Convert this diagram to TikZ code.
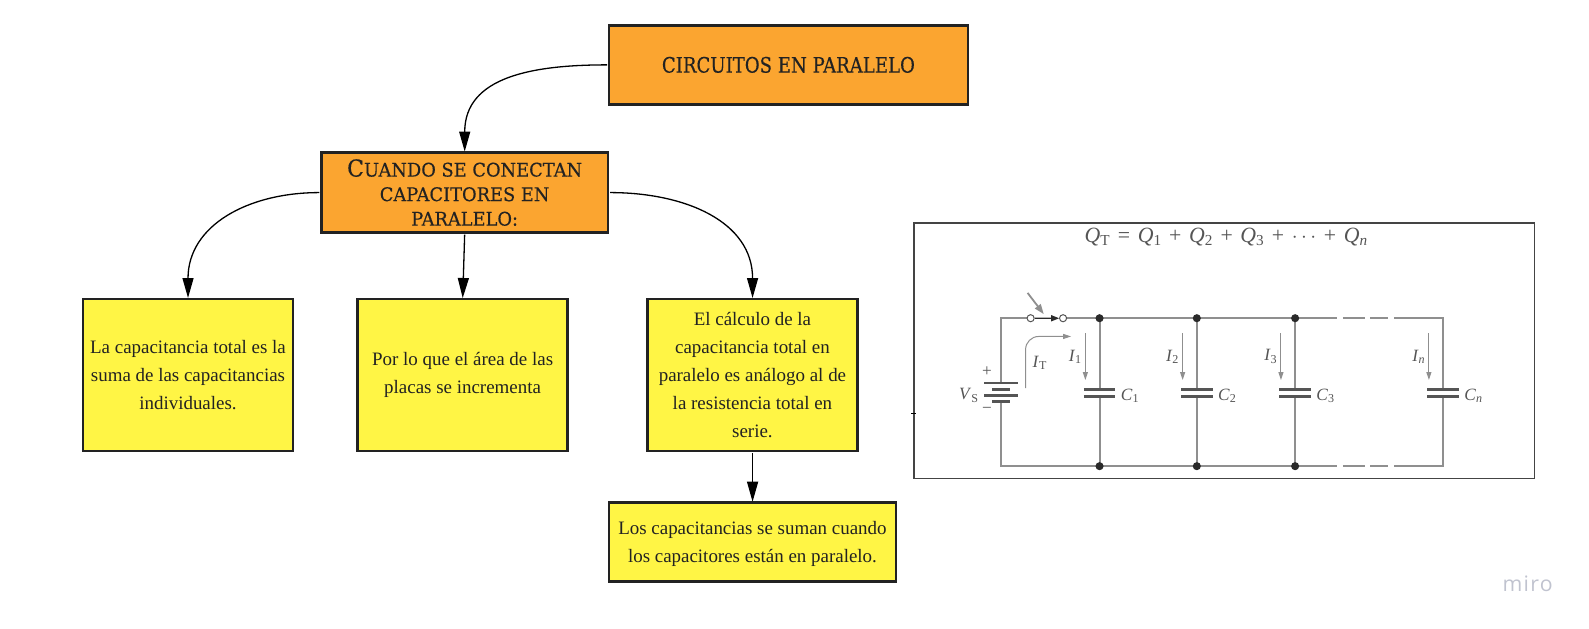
\documentclass[tikz,border=0pt]{standalone}
\usepackage{fontspec}
\usetikzlibrary{arrows.meta}
\setmainfont{Liberation Serif}
\newfontfamily\slab[FakeStretch=0.85,FakeBold=0.4]{DejaVu Serif}
\newfontfamily\slabwide[FakeStretch=0.95,FakeBold=0.3]{DejaVu Serif}
\newfontfamily\mirofont[LetterSpace=6]{Open Sans}
\definecolor{boxorange}{HTML}{FBA530}
\definecolor{boxyellow}{HTML}{FFF545}
\definecolor{boxline}{HTML}{222222}
\definecolor{wire}{HTML}{8F8F8F}
\definecolor{dots}{HTML}{2A2A2A}
\definecolor{cirtext}{HTML}{555555}
\definecolor{frameline}{HTML}{444444}
\definecolor{mirogrey}{HTML}{C0C3CF}
\tikzset{
  base/.style={draw=boxline,line width=2.6pt,align=center,inner sep=0pt,outer sep=0pt},
  title/.style={base,fill=boxorange,text=boxline},
  note/.style={base,fill=boxyellow,text=boxline,font=\fontsize{18.7}{27.6}\selectfont},
  link/.style={draw=black,line width=1.3pt,-{Triangle[length=20pt,width=11pt]},shorten <=2pt,shorten >=1pt},
  wireline/.style={draw=wire,line width=2pt},
  plate/.style={draw=cirtext,line width=2.6pt},
  cur/.style={draw=wire,line width=1pt,-{Triangle[length=8pt,width=5pt]}},
  cirlabel/.style={text=cirtext,inner sep=0pt,font=\fontsize{17}{17}\selectfont},
  junction/.style={circle,fill=dots,minimum size=8pt,inner sep=0pt},
  sw/.style={circle,draw=cirtext,fill=white,line width=1pt,minimum size=7pt,inner sep=0pt}
}
\newcommand{\sym}[2]{\textit{#1}\textsubscript{#2}}
\begin{document}
\begin{tikzpicture}[x=1pt,y=-1pt,scale=1.0134,transform shape]
\useasboundingbox (0,0) rectangle (1568,619.7);

\node[title,font=\slab\fontsize{21}{24}\selectfont,minimum width=354pt,minimum height=78pt] (top) at (778,64) {CIRCUITOS EN PARALELO};
\node[title,font=\slabwide\fontsize{18.5}{24.2}\selectfont,minimum width=283pt,minimum height=79pt] (mid) at (458.5,190) {{\fontsize{23}{24.2}\selectfont C}UANDO SE CONECTAN\\CAPACITORES EN\\PARALELO:};
\node[note,minimum width=207pt,minimum height=150pt] (a) at (185.5,370) {La capacitancia total es la\\suma de las capacitancias\\individuales.};
\node[note,minimum width=207pt,minimum height=150pt] (b) at (456.5,370) {Por lo que el área de las\\placas se incrementa};
\node[note,minimum width=207pt,minimum height=150pt] (c) at (742.5,370) {El cálculo de la\\capacitancia total en\\paralelo es análogo al de\\la resistencia total en\\serie.};
\node[note,minimum width=283pt,minimum height=78pt] (d) at (742.5,535) {\rule{0pt}{17pt}Los capacitancias se suman cuando\\los capacitores están en paralelo.};

\draw[link] (top.west) to[out=180,in=90,looseness=1.15] (mid.north);
\draw[link] (mid.west) to[out=180,in=90,looseness=1.1] (a.north);
\draw[link] (mid.south) -- (b.north);
\draw[link] (mid.east) to[out=0,in=90,looseness=1.1] (c.north);
\draw[link] (c.south) -- (d.north);

% circuit picture
\draw[draw=frameline,line width=1.4pt] (902,220) rectangle (1514,472);
\draw[black,line width=.8pt] (899,408) -- (904,408);
\node[cirlabel,font=\fontsize{21.5}{22}\selectfont] (eq) at (1210,234) {\spaceskip=7.5pt\sym{Q}{T} = \sym{Q}{1} + \sym{Q}{2} + \sym{Q}{3} + $\cdots$ + \sym{Q}{\textit{n}}};

\draw[wireline] (988,378) -- (988,314) -- (1017,314);
\draw[wireline] (1049,314) -- (1319,314);
\draw[wireline] (1325,314) -- (1347,314) (1352,314) -- (1370,314);
\draw[wireline] (1376,314) -- (1424,314) -- (1424,384.5);
\draw[wireline] (1424,391.5) -- (1424,460) -- (1376,460);
\draw[wireline] (1352,460) -- (1370,460) (1325,460) -- (1347,460);
\draw[wireline] (1319,460) -- (988,460) -- (988,396);

\draw[plate] (971,378) -- (1005,378) (971,390) -- (1005,390);
\draw[plate,line width=3pt] (979,384) -- (997,384) (979,396) -- (997,396);
\node[cirlabel] (plus) at (974,367) {+};
\node[cirlabel] (minus) at (974,405) {\textminus};
\node[cirlabel] (vs) at (956,390) {\sym{V}{S}};

\node[sw] (s1) at (1017,314) {};
\node[sw] (s2) at (1049,314) {};
\draw[draw=dots,line width=1.4pt,-{Triangle[length=8pt,width=6pt]}] (s1) -- (s2);
\draw[draw=wire,line width=1.8pt,-{Triangle[length=10pt,width=7pt]}] (1014,289) -- (1030,310);

\draw[cur] (1012,383) -- (1012,345) to[out=90,in=180] (1025,332) -- (1057,332);
\node[cirlabel] (it) at (1026,358) {\sym{I}{T}};

\foreach \x/\n/\l in {1085/1/1,1181/2/2,1278/3/3,1424/n/\textit{n}}{
  \draw[wireline] (\x,314) -- (\x,384.5);
  \draw[wireline] (\x,391.5) -- (\x,460);
  \draw[plate] (\x-15.5,384.5) -- (\x+15.5,384.5) (\x-15.5,391.5) -- (\x+15.5,391.5);
  \draw[cur] (\x-14,329) -- (\x-14,375);
  \node[cirlabel] (i\n) at (\x-24,352) {\sym{I}{\l}};
  \node[cirlabel] (c\n) at (\x+30,390.5) {\sym{C}{\l}};
}
\foreach \x in {1085,1181,1278}{
  \node[junction] at (\x,314) {};
  \node[junction] at (\x,460) {};
}

\node[text=mirogrey,inner sep=0pt,font=\mirofont\fontsize{21}{21}\selectfont] (miro) at (1507.5,576) {miro};
\end{tikzpicture}
\end{document}
